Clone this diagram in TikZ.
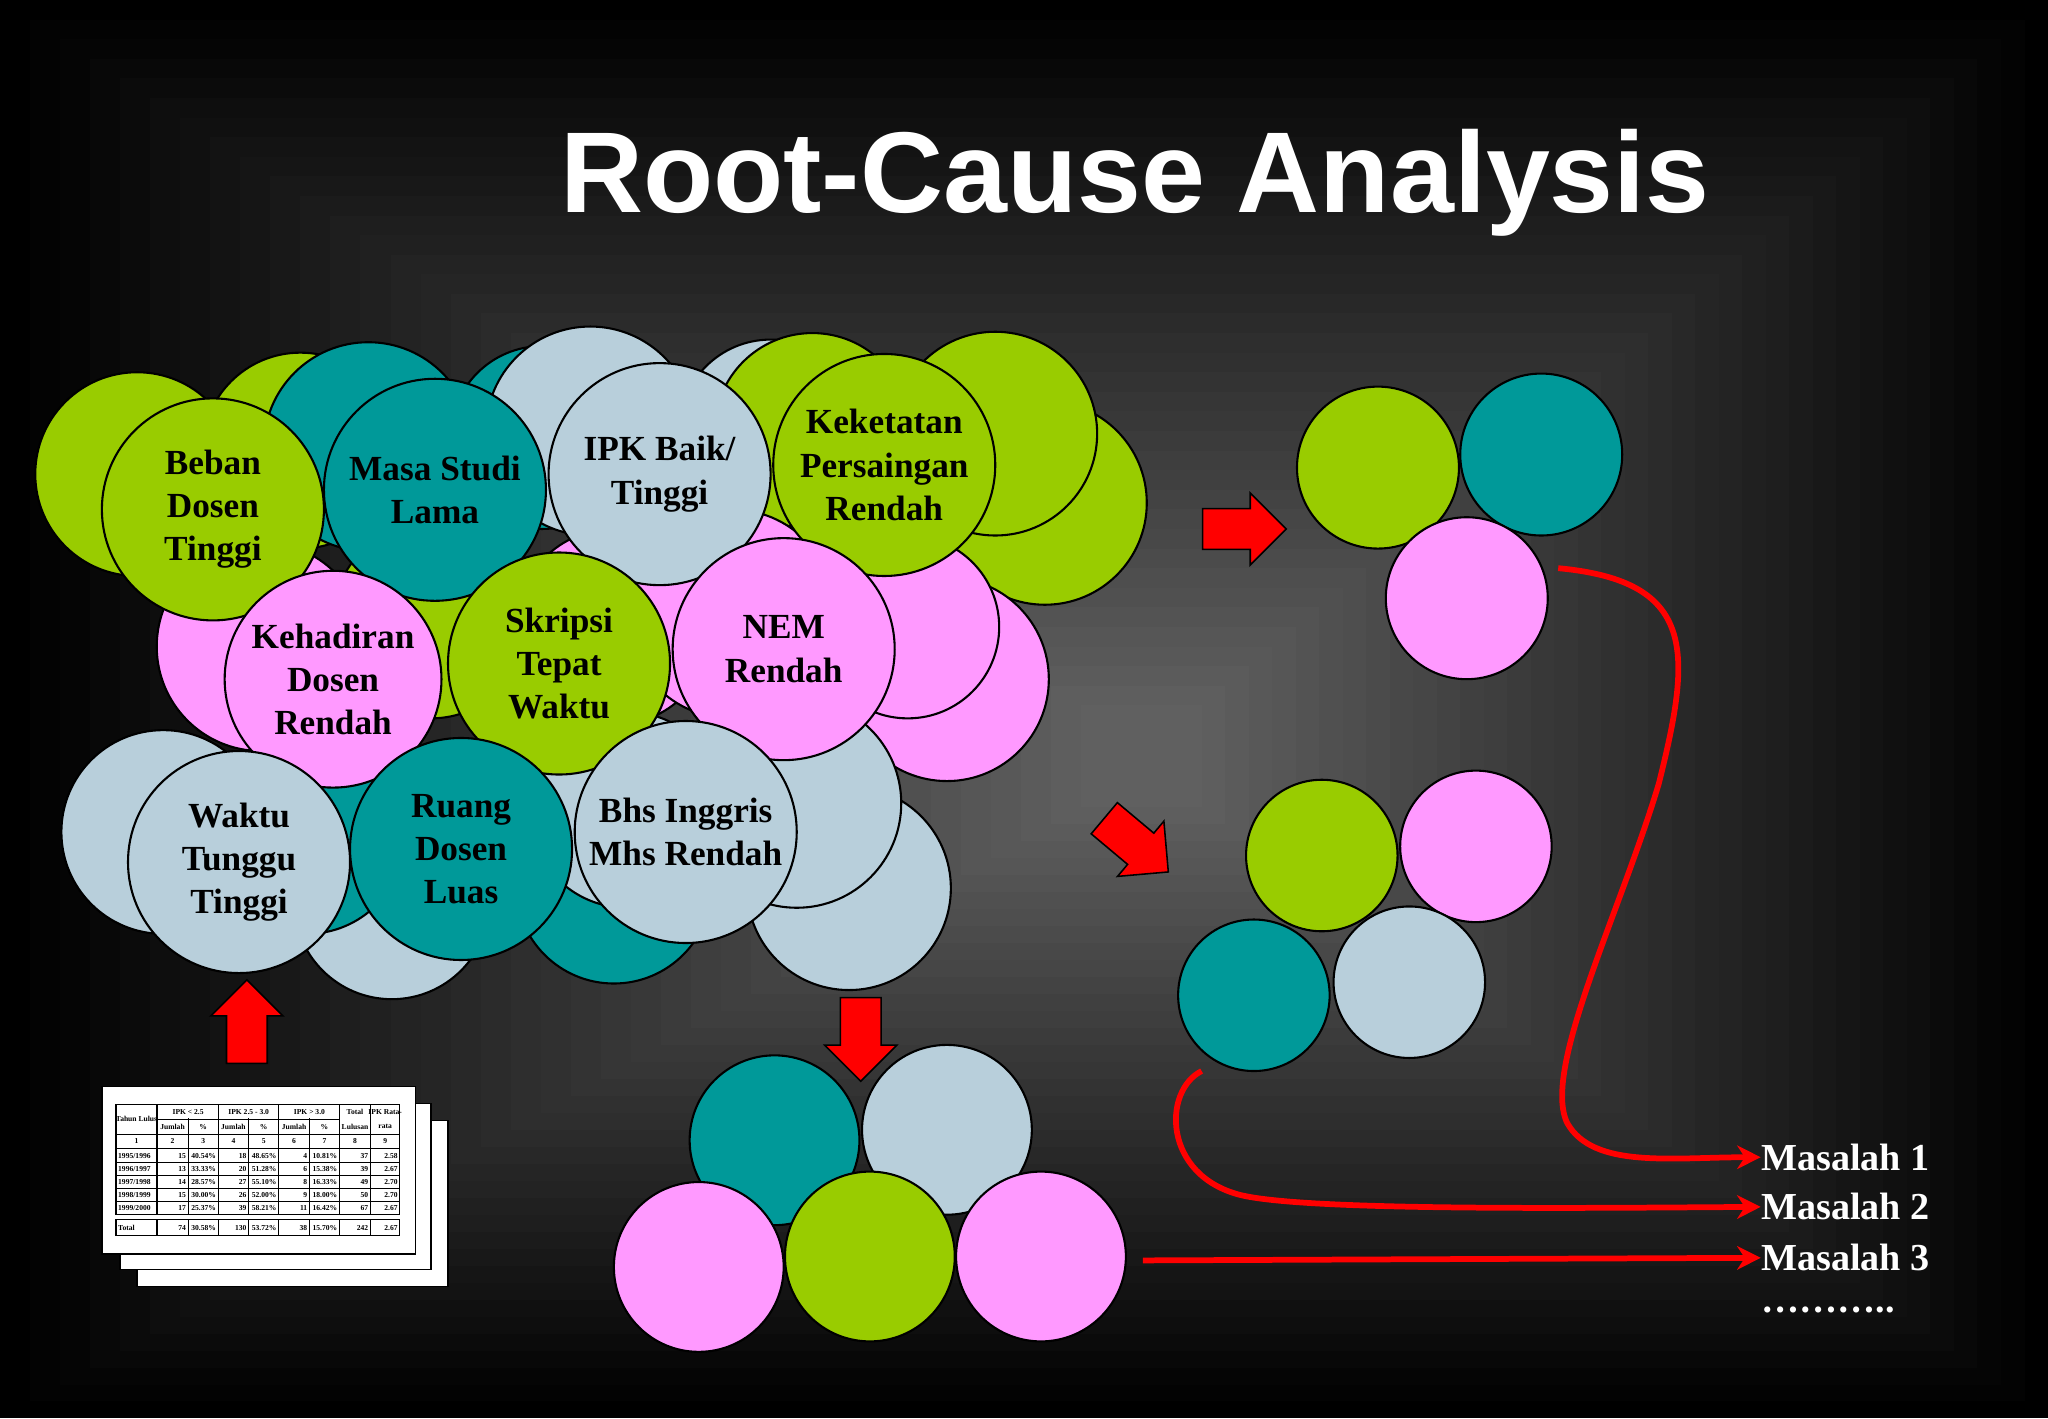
\documentclass[tikz,border=0pt]{standalone}
\usepackage{fontspec}
\setmainfont{Liberation Serif}
\newfontfamily\titlefont{Liberation Sans}
\usetikzlibrary{shapes.arrows,arrows.meta}
\definecolor{cg}{HTML}{99CC00}
\definecolor{ct}{HTML}{009999}
\definecolor{cb}{HTML}{B8CFDB}
\definecolor{cp}{HTML}{FF99FF}
\tikzset{
 c/.style args={#1/#2}{circle,draw=black,line width=0.8pt,fill=#1,minimum size={(#2)*0.5pt},inner sep=0pt,align=center,
   font=\fontsize{13.5}{16.5}\selectfont\bfseries},
 barr/.style={single arrow,draw=black,fill=red,line width=0.6pt,minimum height=32pt,minimum width=27pt,
   single arrow head extend=6pt,inner xsep=0pt,inner ysep=7.5pt},
 redl/.style={draw=red,line width=2.2pt,-{Stealth[length=9pt,width=9pt]}},
 lab/.style={text=white,font=\fontsize{14.6}{16}\selectfont\bfseries,anchor=west,inner sep=0pt},
 sheet/.style={draw=black,fill=white,line width=0.6pt},
 tc/.style={font=\fontsize{2.9}{3.3}\selectfont\bfseries,inner sep=0.4pt},
}
\begin{document}
\begin{tikzpicture}[x=0.5pt,y=-0.5pt]
\useasboundingbox (0,0) rectangle (1568,1086);
\fill[black] (0,0) rectangle (1568,1086);
\foreach \i in {0,...,36}{
  \pgfmathsetmacro\p{100-\i*1.05}
  \pgfmathsetmacro\lx{\i*23}
  \pgfmathsetmacro\rx{1568-\i*18}
  \pgfmathsetmacro\ty{\i*15}
  \pgfmathsetmacro\by{1086-\i*13}
  \fill[black!\p] (\lx,\ty) rectangle (\rx,\by);
}
\node[text=white,font=\titlefont\fontsize{44}{48}\selectfont\bfseries] (title) at (869,140) {Root-Cause Analysis};

% back layer
\node[c=cg/156] (b1) at (105,363) {};
\node[c=cg/150] (b2) at (230,345) {};
\node[c=ct/160] (b3) at (282,342) {};
\node[c=ct/140] (b4) at (415,335) {};
\node[c=cb/160] (b5) at (452,330) {};
\node[c=cb/140] (b6) at (590,330) {};
\node[c=cg/156] (b7) at (800,385) {};
\node[c=cg/156] (b8) at (762,332) {};
\node[c=cg/150] (b9) at (622,330) {};
\node[c=cp/160] (m1) at (200,495) {};
\node[c=cg/150] (m2) at (330,475) {};
\node[c=cp/150] (m3) at (470,480) {};
\node[c=cp/156] (m6) at (725,520) {};
\node[c=cp/140] (m5) at (695,480) {};
\node[c=cp/160] (m4) at (560,470) {};
\node[c=cb/156] (d1) at (125,637) {};
\node[c=cb/150] (d3) at (300,690) {};
\node[c=ct/150] (d2) at (235,640) {};
\node[c=ct/150] (d4) at (470,678) {};
\node[c=cb/150] (d7) at (480,620) {};
\node[c=cb/156] (d6) at (650,680) {};
\node[c=cb/160] (d5) at (610,615) {};
% front top
\node[c=cg/170] (beban) at (163,390) {Beban\\Dosen\\Tinggi};
\node[c=ct/170] (masa) at (333,375) {Masa Studi\\Lama};
\node[c=cb/170] (ipk) at (505,363) {IPK Baik/\\Tinggi};
\node[c=cg/170] (kek) at (677,356) {Keketatan\\Persaingan\\Rendah};
% front middle
\node[c=cp/166] (keh) at (255,520) {Kehadiran\\Dosen\\Rendah};
\node[c=cg/170] (skr) at (428,508) {Skripsi\\Tepat\\Waktu};
\node[c=cp/170] (nem) at (600,497) {NEM\\Rendah};
% front bottom
\node[c=cb/170] (wak) at (183,660) {Waktu\\Tunggu\\Tinggi};
\node[c=ct/170] (rua) at (353,650) {Ruang\\Dosen\\Luas};
\node[c=cb/170] (bhs) at (525,637) {Bhs Inggris\\Mhs Rendah};

% right groups
\node[c=cg/124] (g1a) at (1055,358) {};
\node[c=ct/124] (g1b) at (1180,348) {};
\node[c=cp/124] (g1c) at (1123,458) {};
\node[c=cg/116] (g2a) at (1012,655) {};
\node[c=cp/116] (g2b) at (1130,648) {};
\node[c=ct/116] (g2c) at (960,762) {};
\node[c=cb/116] (g2d) at (1079,752) {};
\node[c=ct/130] (g3a) at (593,873) {};
\node[c=cb/130] (g3b) at (725,865) {};
\node[c=cp/130] (g3c) at (535,970) {};
\node[c=cg/130] (g3d) at (666,962) {};
\node[c=cp/130] (g3e) at (797,962) {};

% block arrows
\node[barr] (a1) at (945,405) {};
\node[barr,rotate=-40] (a2) at (864,642) {};
\node[barr,rotate=-90] (a3) at (659,788) {};
\node[barr,rotate=90] (a4) at (189,790) {};

% labels
\node[lab] (ms1) at (1348,886) {Masalah 1};
\node[lab] (ms2) at (1348,924) {Masalah 2};
\node[lab] (ms3) at (1348,963) {Masalah 3};
\node[lab] (dots) at (1348,1003) {\dots\dots\dots..};

\draw[redl] (1193,435) .. controls (1300,445) and (1295,500) .. (1270,600)
  .. controls (1240,700) and (1180,820) .. (1200,860)
  .. controls (1220,895) and (1280,886) .. (ms1.west);
\draw[redl] (920,820) .. controls (890,835) and (890,900) .. (950,915)
  .. controls (1000,927) and (1200,925) .. (ms2.west);
\draw[redl] (875,965) -- (ms3.west);

% table sheets
\draw[sheet] (105,858) rectangle (343,985);
\draw[sheet] (92,845) rectangle (330,972);
\draw[sheet] (78,832) rectangle (318,960);
\begin{scope}[line width=0.4pt]
\draw (88.8,845.8) rectangle (306.1,930);
\draw (88.8,934) rectangle (306.1,946);
\foreach \x in {120.2,144,167,190.4,213.4,236.9,259.9,283.6}{
  \draw (\x,845.8) -- (\x,930); \draw (\x,934) -- (\x,946);}
\draw (120.2,856.8) -- (259.9,856.8);
\foreach \y in {868.3,879.3,890,900,910,920}{\draw (88.8,\y) -- (306.1,\y);}
\foreach \x in {144,190.4,236.9}{\draw[white,line width=0.8pt] (\x,846.3) -- (\x,856.3);}
\end{scope}
\node[tc] (h0) at (104.5,857) {Tahun Lulus};
\node[tc] (h1) at (144,851.3) {IPK < 2.5};
\node[tc] (h2) at (190.4,851.3) {IPK 2.5 - 3.0};
\node[tc] (h3) at (236.9,851.3) {IPK > 3.0};
\node[tc] (h4) at (271.8,851.3) {Total};
\node[tc] (h5) at (294.9,851.3) {IPK Rata-};
\node[tc] (h6) at (271.8,862.5) {Lulusan};
\node[tc] (h7) at (294.9,862.5) {rata};
\foreach \x/\t in {132.1/Jumlah,155.6/\%,178.7/Jumlah,201.9/\%,225.2/Jumlah,248.4/\%}{
  \node[tc] at (\x,862.5) {\t};}
\foreach \x/\t in {104.5/1,132.1/2,155.6/3,178.7/4,201.9/5,225.2/6,248.4/7,271.8/8,294.9/9}{
  \node[tc] at (\x,873.8) {\t};}
\foreach \y/\a/\b/\c/\d/\e/\f/\g/\h/\k in {
  885/1995\slash 1996/15/40.54\%/18/48.65\%/4/10.81\%/37/2.58,
  895/1996\slash 1997/13/33.33\%/20/51.28\%/6/15.38\%/39/2.67,
  905/1997\slash 1998/14/28.57\%/27/55.10\%/8/16.33\%/49/2.70,
  915/1998\slash 1999/15/30.00\%/26/52.00\%/9/18.00\%/50/2.70,
  925/1999\slash 2000/17/25.37\%/39/58.21\%/11/16.42\%/67/2.67,
  940/Total/74/30.58\%/130/53.72\%/38/15.70\%/242/2.67}{
  \node[tc,anchor=west] at (89.3,\y) {\a};
  \node[tc,anchor=east] at (143.5,\y) {\b};
  \node[tc,anchor=east] at (166.5,\y) {\c};
  \node[tc,anchor=east] at (189.9,\y) {\d};
  \node[tc,anchor=east] at (212.9,\y) {\e};
  \node[tc,anchor=east] at (236.4,\y) {\f};
  \node[tc,anchor=east] at (259.4,\y) {\g};
  \node[tc,anchor=east] at (283.1,\y) {\h};
  \node[tc,anchor=east] at (305.6,\y) {\k};
}
\end{tikzpicture}
\end{document}
